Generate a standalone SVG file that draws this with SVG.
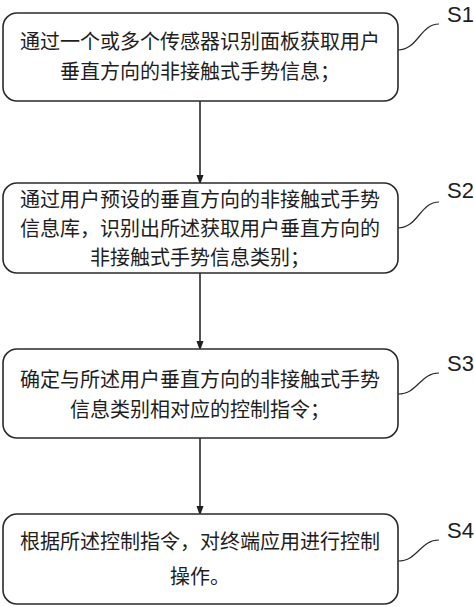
<svg xmlns="http://www.w3.org/2000/svg" width="474" height="607" viewBox="0 0 474 607">
<defs>
<style>
.box{fill:#fff;stroke:#2a2a2a;stroke-width:1.6}
.t{font-family:"Noto Sans CJK SC","Noto Sans",sans-serif;font-size:20px;fill:#1e1e1e;text-anchor:middle}
.lbl{font-family:"Liberation Sans",Arial,sans-serif;font-size:22px;fill:#1e1e1e}
.lead{fill:none;stroke:#2a2a2a;stroke-width:1.2}
.edge{stroke:#2a2a2a;stroke-width:1.6;fill:none}
</style>
<marker id="ah" markerWidth="10" markerHeight="14" refX="10" refY="5" orient="auto" markerUnits="userSpaceOnUse" viewBox="0 0 14 10">
<path d="M0,0 L14,5 L0,10 Z" fill="#1e1e1e"/>
</marker>
</defs>
<rect width="474" height="607" fill="#fff"/>
<g id="connectors">
<line class="edge" x1="200" y1="101" x2="200" y2="182" marker-end="url(#ah)"/>
<line class="edge" x1="200" y1="273" x2="200" y2="348" marker-end="url(#ah)"/>
<line class="edge" x1="200" y1="438" x2="200" y2="513" marker-end="url(#ah)"/>
</g>
<g id="S1">
<rect class="box" x="3" y="13" width="395" height="88" rx="14"/>
<text class="t" x="200" y="49">通过一个或多个传感器识别面板获取用户</text>
<text class="t" x="200" y="79">垂直方向的非接触式手势信息；</text>
<path class="lead" d="M398,50 C418,50 420,24 439,24"/>
<text class="lbl" x="447" y="22">S1</text>
</g>
<g id="S2">
<rect class="box" x="3" y="183" width="395" height="90" rx="14"/>
<text class="t" x="200" y="207">通过用户预设的垂直方向的非接触式手势</text>
<text class="t" x="200" y="236">信息库，识别出所述获取用户垂直方向的</text>
<text class="t" x="200" y="265">非接触式手势信息类别；</text>
<path class="lead" d="M398,228 C418,228 420,202 439,202"/>
<text class="lbl" x="447" y="198">S2</text>
</g>
<g id="S3">
<rect class="box" x="3" y="349" width="395" height="89" rx="14"/>
<text class="t" x="200" y="387">确定与所述用户垂直方向的非接触式手势</text>
<text class="t" x="200" y="417">信息类别相对应的控制指令；</text>
<path class="lead" d="M398,394 C418,394 420,373 439,373"/>
<text class="lbl" x="447" y="371">S3</text>
</g>
<g id="S4">
<rect class="box" x="3" y="514" width="395" height="90" rx="14"/>
<text class="t" x="200" y="549">根据所述控制指令，对终端应用进行控制</text>
<text class="t" x="200" y="584">操作。</text>
<path class="lead" d="M398,561 C418,561 420,540 439,540"/>
<text class="lbl" x="447" y="538">S4</text>
</g>
</svg>
